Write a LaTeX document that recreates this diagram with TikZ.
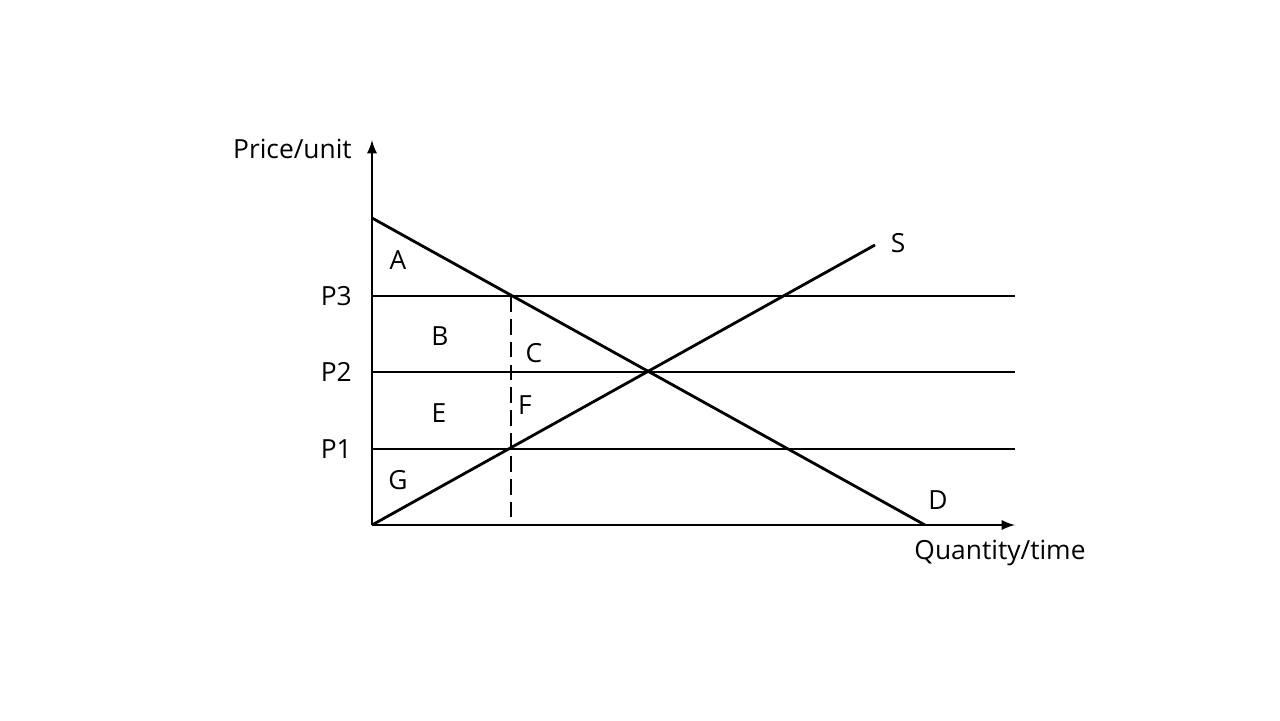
\documentclass[tikz,border=0pt]{standalone}
\usepackage{fontspec}
\setmainfont{Open Sans}
\begin{document}
\begin{tikzpicture}[x=0.02cm,y=-0.02cm,
  lbl/.style={font=\fontsize{15}{18}\selectfont},
  ln/.style={line width=1.6pt}]
\useasboundingbox (0,0) rectangle (1280,720);
\coordinate (O) at (372,525);
\coordinate (Ytop) at (372,140);
\coordinate (Xend) at (1015,525);
\draw[ln,-latex] (O) -- (Ytop);
\draw[ln,-latex] (O) -- (Xend);
\node[lbl,anchor=east] (py) at (358,149) {Price/unit};
\node[lbl] (qx) at (1000,553) {Quantity/time};
\coordinate (D0) at (372,218); \coordinate (D1) at (925,525);
\coordinate (S1) at (875,245);
\draw[ln] (D0) -- (D1);
\draw[ln] (O) -- (S1);
\foreach \y/\t in {296/P3,372/P2,449/P1}{
  \coordinate (L\t) at (372,\y); \coordinate (R\t) at (1015,\y);
  \draw[ln] (L\t) -- (R\t);
  \node[lbl,anchor=east] (n\t) at (358,\y) {\t};
}
\coordinate (dT) at (511,296); \coordinate (dB) at (511,525);
\draw[line width=1pt,dash pattern=on 9pt off 4pt] (dT) -- (dB);
\node[lbl] (a) at (398,260) {A};
\node[lbl] (b) at (440,336) {B};
\node[lbl] (c) at (534,353) {C};
\node[lbl] (e) at (439,413) {E};
\node[lbl] (f) at (525,405) {F};
\node[lbl] (g) at (398,480) {G};
\node[lbl] (s) at (898,243) {S};
\node[lbl] (d) at (938,500) {D};
\end{tikzpicture}
\end{document}
